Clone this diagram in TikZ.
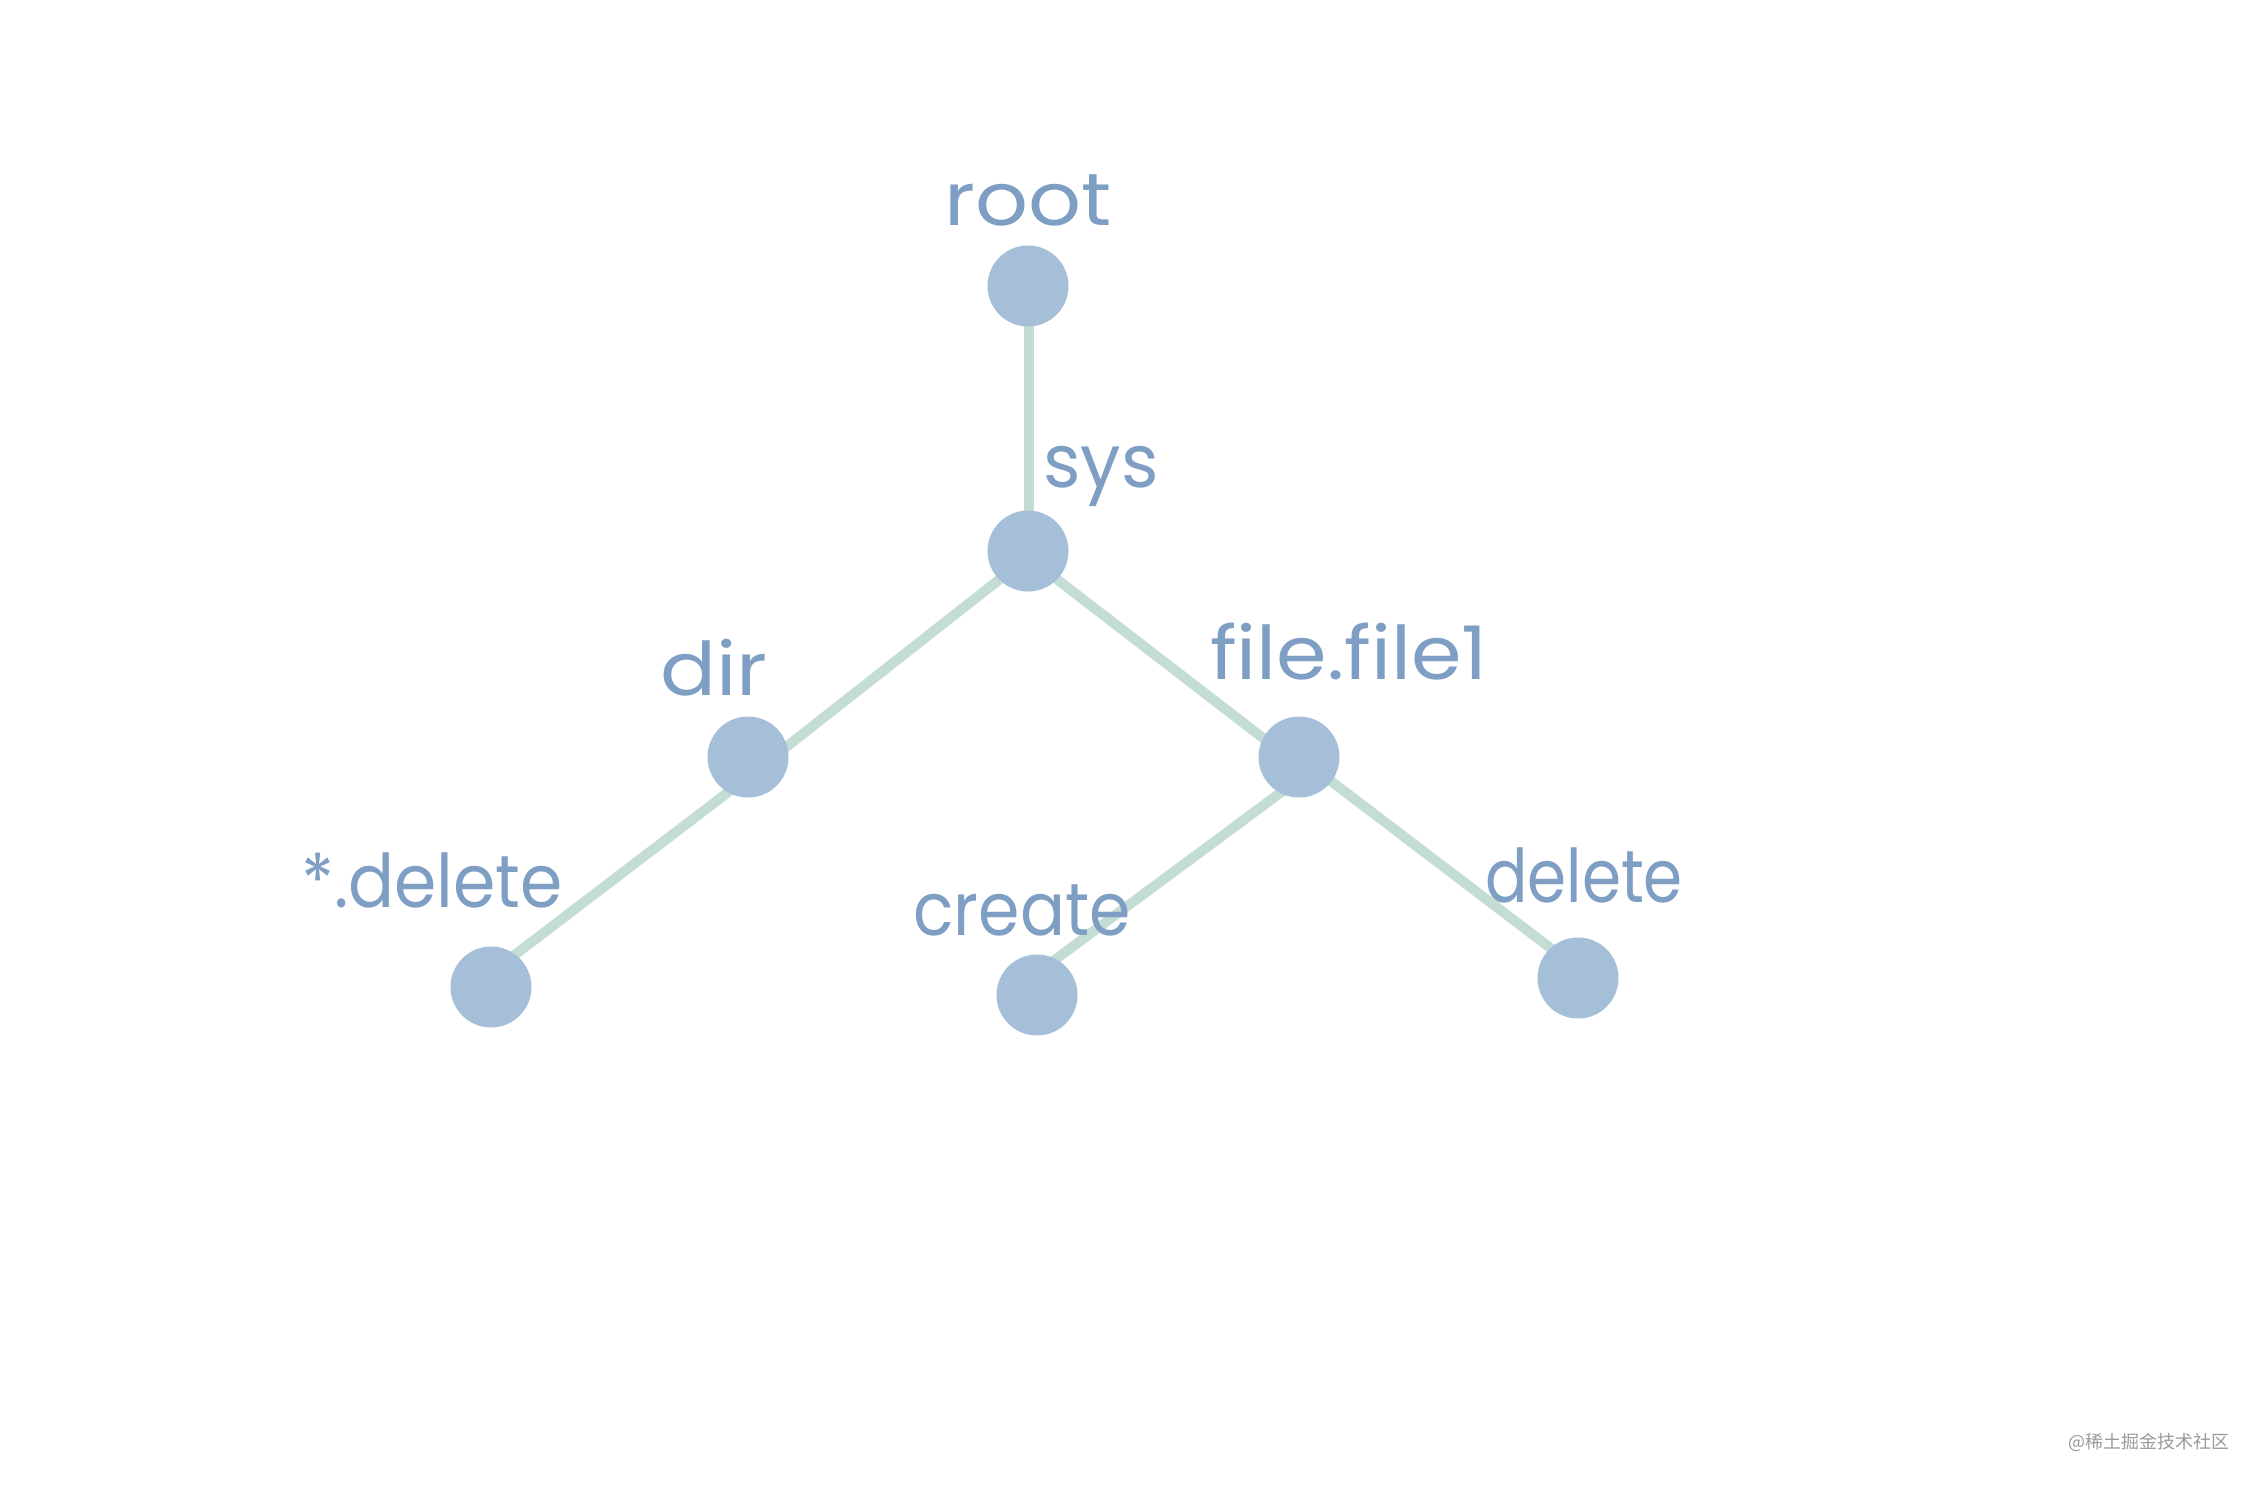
\documentclass[tikz,border=0pt]{standalone}
\usepackage{fontspec}
\setmainfont{Poppins}
\newfontfamily\cjkfont{Noto Sans CJK SC}
\definecolor{nodeblue}{HTML}{A6BFD9}
\definecolor{edgegreen}{HTML}{C3DDD5}
\definecolor{labelblue}{HTML}{7E9EC3}
\definecolor{wmgray}{HTML}{9A9A9A}
\begin{document}
\begin{tikzpicture}[x=1pt,y=-1pt,
  vertex/.style={circle,fill=nodeblue,minimum size=81pt,inner sep=0pt},
  edge/.style={draw=edgegreen,line width=10pt},
  lbl/.style={text=labelblue,font=\fontsize{74}{80}\selectfont,inner sep=0pt,transform shape}]
\fill[white] (0,0) rectangle (2266,1488);
\useasboundingbox (0,0) rectangle (2266,1488);
% junction points of the hand-drawn connectors
\coordinate (jroot) at (1029,286);
\coordinate (jsysT) at (1029,551);
\coordinate (jsys) at (1028,557);
\coordinate (jdir) at (748,777);
\coordinate (jfileA) at (1298,765);
\coordinate (jfileB) at (1299,779);
\coordinate (jfileC) at (1298,756);
\coordinate (jstar) at (491,973);
\coordinate (jcreate) at (1037,973);
\coordinate (jdel) at (1578,969);
\draw[edge] (jroot) -- (jsysT);
\draw[edge] (jsys) -- (jdir);
\draw[edge] (jsys) -- (jfileA);
\draw[edge] (jdir) -- (jstar);
\draw[edge] (jfileB) -- (jcreate);
\draw[edge] (jfileC) -- (jdel);
\node[vertex] (root) at (1028,286) {};
\node[vertex] (sys) at (1028,551) {};
\node[vertex] (dir) at (748,757) {};
\node[vertex] (file) at (1299,757) {};
\node[vertex] (star) at (491,987) {};
\node[vertex] (create) at (1037,995) {};
\node[vertex] (del) at (1578,978) {};
\node[lbl,xscale=1.12] (lroot) at (1028,200) {root};
\node[lbl,xscale=0.97] (lsys) at (1101,476) {sys};
\node[lbl,xscale=1.12] (ldir) at (714,668) {dir};
\node[lbl,xscale=1.1] (lfile) at (1349,652) {file.file1};
\node[lbl,xscale=0.92] (lstar) at (432,880) {*.delete};
\node[lbl,xscale=0.9] (lcreate) at (1022,910) {create};
\node[lbl,xscale=0.85] (ldel) at (1584,875) {delete};
\node[text=wmgray,font=\cjkfont\fontsize{18}{20}\selectfont,inner sep=0pt] (wm) at (2149,1442) {@稀土掘金技术社区};
\end{tikzpicture}
\end{document}
